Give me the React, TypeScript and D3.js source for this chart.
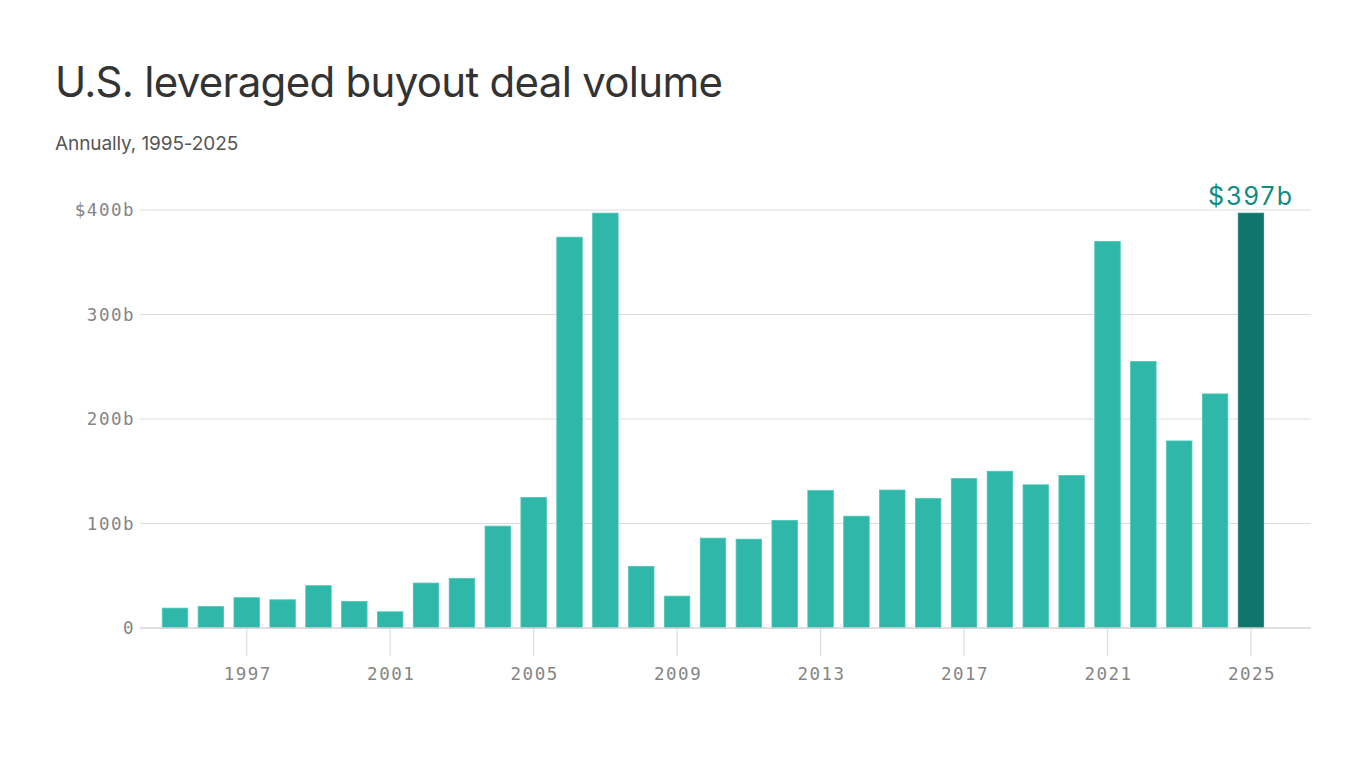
import * as d3 from "d3";

const years = d3.range(1995, 2026).map(String);
const volumes = [
  19, 20.5, 29, 27, 40.5, 25.5, 15.5, 43, 47.5, 97.5, 125, 374, 397, 59, 30.5,
  86, 85, 103, 131.5, 107, 132, 124, 143, 150, 137, 146, 370, 255, 179, 224, 397,
];
const xTickYears = ["1997", "2001", "2005", "2009", "2013", "2017", "2021", "2025"];
const yTicks = [0, 100, 200, 300, 400];
const highlightYear = "2025";

const W = 1366;
const H = 768;
const left = 140;
const right = 1311;
const baseY = 628;
const topY = 210;

const mono = "'DejaVu Sans Mono', monospace";
const sans = "Inter, 'Noto Sans', sans-serif";

export default function App() {
  const x = d3
    .scaleBand<string>()
    .domain(years)
    .range([left, right])
    .paddingInner(0.29)
    .paddingOuter(0.97)
    .align(0.32);

  const y = d3.scaleLinear().domain([0, 400]).range([baseY, topY]);

  const fmt = (v: number) => (v === 0 ? "0" : v === 400 ? `$${v}b` : `${v}b`);
  const hiVal = volumes[years.indexOf(highlightYear)];
  const hiX = (x(highlightYear) ?? 0) + x.bandwidth() / 2;

  return (
    <svg
      width={W}
      height={H}
      style={{ position: "absolute", left: 0, top: 0, background: "#fff" }}
    >
      <text x={55} y={97} fontFamily={sans} fontSize={42} fill="#333" letterSpacing={-0.7}>
        U.S. leveraged buyout deal volume
      </text>
      <text x={55} y={150} fontFamily={sans} fontSize={19} fill="#555" letterSpacing={-0.1}>
        Annually, 1995-2025
      </text>

      {/* gridlines */}
      {yTicks.map((t) => (
        <g key={t}>
          {t !== 0 && (
            <line x1={left} x2={right} y1={y(t)} y2={y(t)} stroke="#dcdcdc" strokeWidth={1} />
          )}
          <text
            x={135}
            y={y(t) + 6}
            textAnchor="end"
            fontFamily={mono}
            fontSize={17.5}
            letterSpacing={1.5}
            fill="#858585"
          >
            {fmt(t)}
          </text>
        </g>
      ))}

      {/* x ticks */}
      {xTickYears.map((yr) => {
        const cx = (x(yr) ?? 0) + x.bandwidth() / 2;
        return (
          <g key={yr}>
            <line x1={cx} x2={cx} y1={baseY} y2={656} stroke="#dedede" strokeWidth={1.2} />
            <text
              x={cx + 1}
              y={680}
              textAnchor="middle"
              fontFamily={mono}
              fontSize={17.5}
              letterSpacing={1.5}
              fill="#858585"
            >
              {yr}
            </text>
          </g>
        );
      })}

      {/* bars */}
      {years.map((yr, i) => (
        <rect
          key={yr}
          x={x(yr)}
          y={y(volumes[i])}
          width={x.bandwidth()}
          height={baseY - y(volumes[i])}
          fill={yr === highlightYear ? "#0e766c" : "#2fb8a9"}
          stroke={yr === highlightYear ? "#1a8277" : "#4cc6b7"}
          strokeWidth={0.8}
        />
      ))}

      <line x1={left} x2={right} y1={baseY} y2={baseY} stroke="#d4d4d4" strokeWidth={1.6} />

      {/* annotation */}
      <text
        x={hiX}
        y={y(hiVal) - 8}
        textAnchor="middle"
        fontFamily={sans}
        fontSize={25}
        letterSpacing={2}
        fill="#0f8c7e"
        stroke="#fff"
        strokeWidth={4}
        paintOrder="stroke"
      >
        ${hiVal}b
      </text>
    </svg>
  );
}
